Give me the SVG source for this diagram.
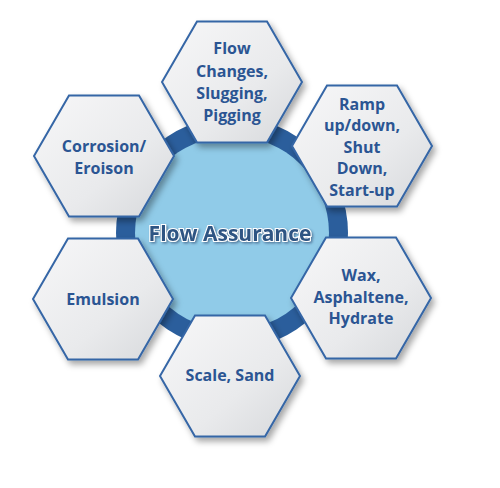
<svg xmlns="http://www.w3.org/2000/svg" xmlns:xlink="http://www.w3.org/1999/xlink" width="500" height="488" viewBox="0 0 500 488">
<defs>
<linearGradient id="hexFill" x1="0" y1="0" x2="1" y2="1">
<stop offset="0" stop-color="#f7f7f8"/>
<stop offset="0.6" stop-color="#e9eaec"/>
<stop offset="1" stop-color="#d6d8db"/>
</linearGradient>
<filter id="shadow" x="-20%" y="-20%" width="150%" height="150%">
<feDropShadow dx="3" dy="4" stdDeviation="3" flood-color="#000" flood-opacity="0.35"/>
</filter>
<filter id="tshadow" x="-10%" y="-30%" width="120%" height="160%">
<feDropShadow dx="1.5" dy="1.5" stdDeviation="0.8" flood-color="#2a4a70" flood-opacity="0.6"/>
</filter>
<path id="hex" d="M70,0 L35,-60.6 L-35,-60.6 L-70,0 L-35,60.6 L35,60.6 Z"/>
</defs>
<style>
.outer{fill:url(#hexFill);stroke:#3566a6;stroke-width:2;filter:url(#shadow)}
.lbl{font-family:"Open Sans","Liberation Sans",sans-serif;font-weight:bold;font-size:16px;fill:#2b5593;text-anchor:middle}
.title{font-family:"Open Sans","Liberation Sans",sans-serif;font-weight:bold;font-size:21px;fill:#2f5583;text-anchor:middle;stroke:#ffffff;stroke-width:2.2;paint-order:stroke;filter:url(#tshadow)}
</style>
<rect width="500" height="488" fill="#ffffff"/>
<g id="connectors">
<circle cx="232" cy="233" r="116" fill="#2b5e9c"/>
</g>
<g id="center">
<circle cx="232" cy="233" r="97" fill="#90cbe8"/>
<text class="title" x="230" y="241">Flow Assurance</text>
</g>
<g id="flow-changes">
<use xlink:href="#hex" class="outer" transform="translate(232,82)"/>
<text class="lbl" x="232" y="54">Flow</text>
<text class="lbl" x="232" y="77">Changes,</text>
<text class="lbl" x="232" y="99">Slugging,</text>
<text class="lbl" x="232" y="121">Pigging</text>
</g>
<g id="ramp">
<use xlink:href="#hex" class="outer" transform="translate(362,146)"/>
<text class="lbl" x="362" y="110">Ramp</text>
<text class="lbl" x="362" y="131">up/down,</text>
<text class="lbl" x="362" y="153">Shut</text>
<text class="lbl" x="362" y="174">Down,</text>
<text class="lbl" x="362" y="196">Start-up</text>
</g>
<g id="wax">
<use xlink:href="#hex" class="outer" transform="translate(361,298)"/>
<text class="lbl" x="361" y="281">Wax,</text>
<text class="lbl" x="361" y="303">Asphaltene,</text>
<text class="lbl" x="361" y="324">Hydrate</text>
</g>
<g id="scale">
<use xlink:href="#hex" class="outer" transform="translate(230,376)"/>
<text class="lbl" x="230" y="381">Scale, Sand</text>
</g>
<g id="emulsion">
<use xlink:href="#hex" class="outer" transform="translate(103,299)"/>
<text class="lbl" x="103" y="305">Emulsion</text>
</g>
<g id="corrosion">
<use xlink:href="#hex" class="outer" transform="translate(104,156)"/>
<text class="lbl" x="104" y="152">Corrosion/</text>
<text class="lbl" x="104" y="174">Eroison</text>
</g>
</svg>
